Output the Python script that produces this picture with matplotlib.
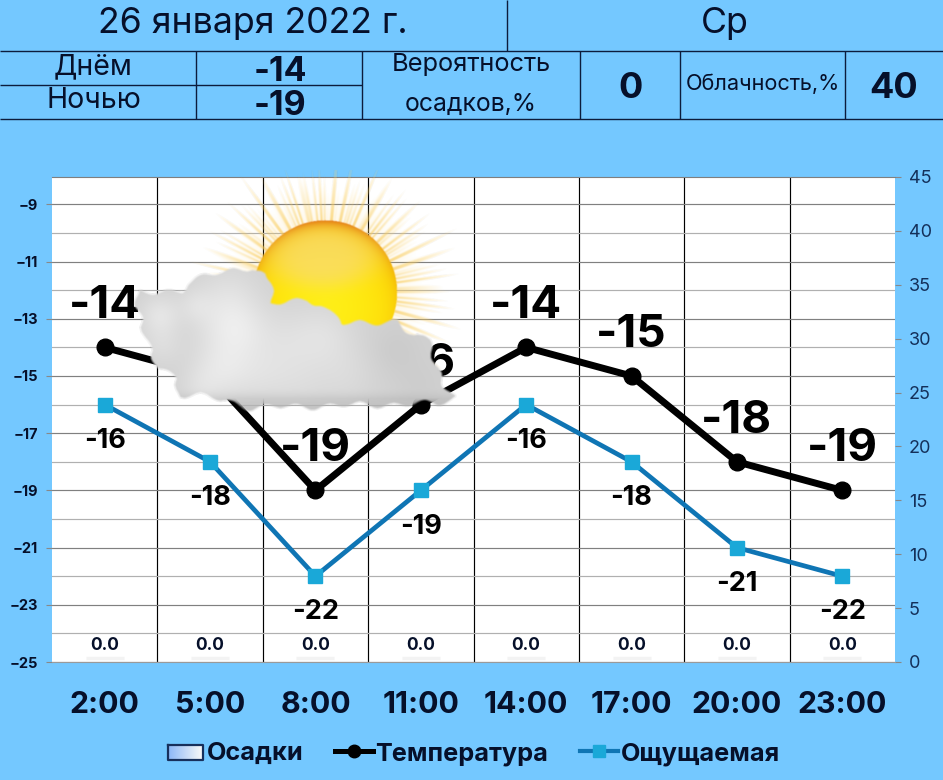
import matplotlib
matplotlib.use("Agg")
import matplotlib.pyplot as plt
import numpy as np
from matplotlib.lines import Line2D
from matplotlib.patches import Patch
from matplotlib.path import Path

hours = ['2:00', '5:00', '8:00', '11:00', '14:00', '17:00', '20:00', '23:00']
temp = [-14, -15, -19, -16, -14, -15, -18, -19]
feels = [-16, -18, -22, -19, -16, -18, -21, -22]
precip = [0.0, 0.0, 0.0, 0.0, 0.0, 0.0, 0.0, 0.0]
left_ticks = [-25, -23, -21, -19, -17, -15, -13, -11, -9]
right_ticks = [0, 5, 10, 15, 20, 25, 30, 35, 40, 45]

date_text = '26 января 2022 г.'
weekday = 'Ср'
day_temp = '-14'
night_temp = '-19'
rain_prob = '0'
clouds = '40'

BG = '#74C8FF'
FONT = 'Inter'
INK = '#06102a'

plt.rcParams['font.family'] = [FONT, 'DejaVu Sans']

W, H = 943, 780
fig = plt.figure(figsize=(W / 100, H / 100), dpi=100, facecolor=BG)


def px_rect(x0, y0, x1, y1):
    return [x0 / W, 1 - y1 / H, (x1 - x0) / W, (y1 - y0) / H]


# chart: right axis sits behind, left axis holds the lines
ax2 = fig.add_axes(px_rect(52, 177, 895, 662), zorder=1)
ax = fig.add_axes(px_rect(52, 177, 895, 662), zorder=2)
ax.patch.set_visible(False)
ax2.set_facecolor('white')

x = np.arange(len(hours))
ax.set_xlim(-0.5, len(hours) - 0.5)
ax2.set_xlim(-0.5, len(hours) - 0.5)
ax.set_ylim(-25, -25 + 485 / 28.6)
ax2.set_ylim(0, 45)

ax2.bar(x, precip, bottom=0.35, width=0.36, color='#f3f3f3', edgecolor='#f3f3f3', linewidth=2.5)
for i, v in enumerate(precip):
    ax2.annotate('%.1f' % v, (x[i], v), xytext=(0, 12), textcoords='offset points',
                 ha='center', va='center', fontsize=12.5, fontweight='bold', color=INK)

ax.set_yticks(left_ticks)
ax.set_yticks(np.array(left_ticks[:-1]) + 1, minor=True)
ax.set_xticks(x, hours)
ax.set_xticks(x[:-1] + 0.5, minor=True)
ax.yaxis.grid(True, which='major', color='#808080', lw=0.85)
ax.yaxis.grid(True, which='minor', color='#b0b0b0', lw=0.85)
ax.xaxis.grid(True, which='minor', color='black', lw=0.85)
ax.xaxis.grid(False, which='major')
ax.set_axisbelow(True)
ax.tick_params(axis='y', which='major', length=4, color='#888888', labelsize=10.5, pad=6,
               labelcolor=INK)
ax.tick_params(axis='y', which='minor', length=0)
ax.tick_params(axis='x', which='both', length=0)
ax.tick_params(axis='x', which='major', labelsize=21.8, labelcolor=INK, pad=21)
for lab in ax.get_yticklabels():
    lab.set_fontweight('bold')
for lab in ax.get_xticklabels():
    lab.set_fontweight('bold')

ax2.set_yticks(right_ticks)
ax2.yaxis.tick_right()
ax2.set_xticks([])
ax2.tick_params(axis='y', length=4, color='#888888', labelsize=13, labelcolor='#14305a', pad=6)

for a in (ax, ax2):
    for s in a.spines.values():
        s.set_visible(False)
ax.spines['bottom'].set_visible(True)
ax.spines['bottom'].set_color('#9a9a9a')
ax.spines['top'].set_visible(True)
ax.spines['top'].set_color('#7f7f7f')

ax.plot(x, feels, color='#0f75b4', lw=3.4, marker='s', ms=10, mfc='#1aa8d8', mec='#1aa8d8',
        solid_joinstyle='miter')
ax.plot(x, temp, color='black', lw=5, marker='o', ms=12, mfc='black', mec='black',
        solid_joinstyle='miter')

for i in range(len(hours)):
    ax.annotate(str(temp[i]), (x[i], temp[i]), xytext=(0, 29.5), textcoords='offset points',
                ha='center', va='center', fontsize=33, fontweight='bold', color='black')
    ax.annotate(str(feels[i]), (x[i], feels[i]), xytext=(0, -26), textcoords='offset points',
                ha='center', va='center', fontsize=19.5, fontweight='bold', color='black')

# the first key is only a placeholder, its gradient box is drawn on the overlay
handles = [Patch(facecolor='none', edgecolor='none'),
           Line2D([], [], color='black', lw=3.6, marker='o', ms=9),
           Line2D([], [], color='#0f75b4', lw=3, marker='s', ms=9, mfc='#1aa8d8', mec='#1aa8d8')]
fig.legend(handles, ['Осадки', 'Температура', 'Ощущаемая'], ncol=3, frameon=False,
           loc='center', bbox_to_anchor=(473 / W, 1 - 754 / H), handlelength=1.5,
           handletextpad=0.1, columnspacing=1.25, prop={'size': 18.2, 'weight': 'bold'},
           labelcolor=INK)

# overlay in pixel coordinates: header table and the weather picture
top = fig.add_axes([0, 0, 1, 1], zorder=5)
top.patch.set_visible(False)
top.axis('off')

top.hlines([51, 119], 0, W, color='#0c1c3c', lw=1)
top.hlines(85, 0, 362, color='#0c1c3c', lw=1)
top.vlines(507, 0, 51, color='#0c1c3c', lw=1)
top.vlines([196, 362, 580, 680, 845], 51, 119, color='#0c1c3c', lw=1)


def head(xc, yc, s, size, bold=False):
    top.text(xc, yc, s, ha='center', va='center', fontsize=size, color=INK,
             fontweight='bold' if bold else 'normal')


head(253, 24, date_text, 25.7)
head(725, 24, weekday, 25.7)
head(93, 67, 'Днём', 20.5)
head(94, 101, 'Ночью', 20.5)
head(280, 72, day_temp, 24.5, True)
head(280, 106, night_temp, 24.5, True)
head(471, 65, 'Вероятность', 18.3)
head(471, 104, 'осадков,%', 17.8)
head(630, 88, rain_prob, 26, True)
head(763, 84, 'Облачность,%', 15.6)
head(894, 88, clouds, 26, True)


def blur(a, n):
    k = np.ones(n) / n
    a = np.apply_along_axis(lambda r: np.convolve(r, k, mode='same'), 0, a)
    a = np.apply_along_axis(lambda r: np.convolve(r, k, mode='same'), 1, a)
    return a


# picture region with 2x sampling
x0, x1, y0, y1 = 120, 480, 170, 430
gx, gy = np.meshgrid(np.arange(x0, x1, 0.5), np.arange(y0, y1, 0.5))

# sun with thin rays
cx, cy, R = 325, 292, 72
dist = np.hypot(gx - cx, gy - cy)
ang = np.arctan2(gy - cy, gx - cx)
rays = (0.5 + 0.5 * np.cos(97 * ang)) * (0.5 + 0.5 * np.cos(43 * ang + 1.0)) + \
       0.6 * (0.5 + 0.5 * np.cos(61 * ang + 2.0)) ** 4
ray_len = 98 + 34 * rays
ray_a = np.clip((ray_len - dist) / (ray_len - R), 0, 1) * (0.12 + 0.6 * np.clip(rays, 0, 1))
ray_a = ray_a * np.clip((392 - gy) / 30, 0, 1)
ray_rgb = np.array([250, 205, 95]) / 255

t = np.clip(np.hypot(gx - cx, gy - (cy + 15)) / (R + 15), 0, 1)
sun = np.zeros(gx.shape + (3,))
sun[..., 0] = 255 - 30 * t ** 8
sun[..., 1] = 238 - 30 * t ** 2 - 100 * t ** 10
sun[..., 2] = 25 - 20 * t
gloss = np.exp(-(((gx - 323) / 56) ** 2 + ((gy - 256) / 32) ** 2) ** 2)
sun = sun + gloss[..., None] * (np.array([248, 218, 120]) - sun) * 0.7
sun = sun / 255
sun_a = blur((dist <= R).astype(float), 3)

# cloud outline, in 3x crop coordinates
outline = np.array([(55, 370), (110, 365), (185, 358), (205, 338), (260, 320), (330, 298),
                    (392, 290), (440, 320), (457, 345), (460, 405), (510, 395), (570, 385),
                    (610, 405), (660, 460), (720, 460), (820, 450), (860, 480), (930, 515),
                    (945, 580), (970, 640), (1003, 680), (960, 700), (700, 705), (400, 712),
                    (260, 680), (175, 672), (165, 620), (105, 590), (100, 535), (62, 480),
                    (50, 420)], dtype=float)
outline = outline / 3 + np.array([120, 170])
wx = gx + 2.5 * np.sin(gy / 4.3) + 1.5 * np.sin(gy / 9.1 + 1)
wy = gy + 2.5 * np.sin(gx / 5.1) + 1.5 * np.sin(gx / 11.3 + 2)
inside_c = Path(outline).contains_points(np.c_[wx.ravel(), wy.ravel()]).reshape(gx.shape)
cloud_a = blur(inside_c.astype(float), 5)

shade = np.full(gx.shape, 210.0)
puffs = [(160, 315, 14, 18), (162, 345, 14, 10), (195, 305, 12, 10), (228, 298, 22, 14),
         (212, 325, 18, 6), (240, 330, 20, 16), (222, 368, 22, 20), (200, 388, 14, 8),
         (285, 345, 26, 12), (262, 378, 20, 8), (325, 335, 22, 12), (345, 375, 22, 8),
         (395, 350, 18, -6), (420, 385, 18, -4), (300, 385, 20, 6)]
for px, py, r, amp in puffs:
    shade += amp * np.exp(-((gx - px) ** 2 + (gy - py) ** 2) / (2 * r ** 2))
shade -= 36 * np.clip((gy - 386) / 20, 0, 1) ** 2
shade = np.clip(shade, 0, 248) / 255

# layers composed back to front: rays, sun, cloud
rgb = np.zeros(gx.shape + (3,))
a = np.zeros(gx.shape)
layers = [(np.broadcast_to(ray_rgb, rgb.shape), ray_a * (dist > R)),
          (sun, sun_a),
          (np.repeat(shade[..., None], 3, axis=2),
           cloud_a * (1 - 0.25 * np.clip((gy - 398) / 8, 0, 1)))]
for col, la in layers:
    out = la + a * (1 - la)
    rgb = (col * la[..., None] + rgb * (a * (1 - la))[..., None]) / np.maximum(out, 1e-6)[..., None]
    a = out
rgba = np.dstack([rgb, a])

top.imshow(rgba, extent=(x0, x1, y1, y0), aspect='auto', interpolation='bilinear')

# gradient on the precipitation legend key
grad = np.linspace(0, 1, 40)
key = np.zeros((1, 40, 3))
key[0, :, 0] = 0.55 + 0.43 * grad
key[0, :, 1] = 0.72 + 0.26 * grad
key[0, :, 2] = 0.97
top.imshow(key, extent=(168, 203, 760, 745), aspect='auto')
top.plot([168, 203, 203, 168, 168], [745, 745, 760, 760, 745], color='#17305c', lw=1.6)

top.set_xlim(0, W)
top.set_ylim(H, 0)

fig.savefig('out.png', dpi=100, facecolor=BG)
